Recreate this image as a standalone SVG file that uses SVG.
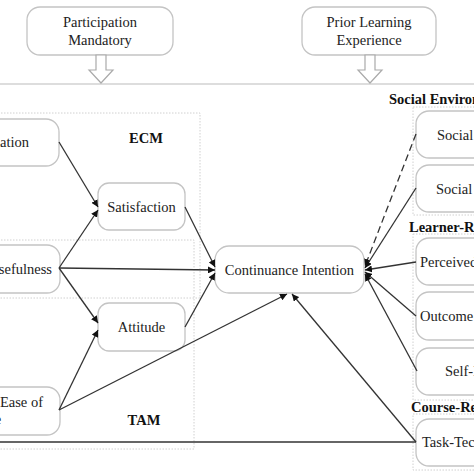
<svg xmlns="http://www.w3.org/2000/svg" width="474" height="474" viewBox="0 0 474 474">
<defs>
<style>
.box{fill:#fff;stroke:#c4c4c4;stroke-width:1.3}
.grp{fill:none;stroke:#d0d0d0;stroke-width:1;stroke-dasharray:1.5 1.5}
.t{font-family:"Liberation Serif","Times New Roman",serif;font-size:14.5px;fill:#222}
.b{font-family:"Liberation Serif","Times New Roman",serif;font-size:14.5px;font-weight:bold;fill:#111}
.c{stroke:#333;stroke-width:1.3;fill:none}
.hollow{fill:#fff;stroke:#aaa;stroke-width:1.2}
</style>
<marker id="ah" viewBox="0 0 10 10" refX="10" refY="5" markerWidth="7" markerHeight="7" markerUnits="userSpaceOnUse" orient="auto">
<path d="M0,0 L10,5 L0,10 z" fill="#111"/>
</marker>
</defs>
<rect width="474" height="474" fill="#fff"/>
<g id="containers">
<rect class="grp" x="-2" y="113" width="202" height="185"/>
<rect class="grp" x="-2" y="240" width="196" height="209"/>
<rect class="grp" x="413" y="107" width="70" height="108"/>
<rect class="grp" x="413" y="234" width="70" height="166"/>
<rect class="grp" x="413" y="414" width="70" height="56"/>
<line x1="0" y1="84" x2="474" y2="84" stroke="#bbb" stroke-width="1.2"/>
</g>
<g id="node-participation">
<rect class="box" x="27" y="7" width="146" height="48" rx="13"/>
<text class="t" x="100" y="27" text-anchor="middle">Participation</text>
<text class="t" x="100" y="45" text-anchor="middle">Mandatory</text>
<path class="hollow" d="M96,55 L106,55 L106,70 L113,70 L101,83 L89,70 L96,70 z"/>
</g>
<g id="node-prior">
<rect class="box" x="302" y="7" width="134" height="48" rx="13"/>
<text class="t" x="369" y="27" text-anchor="middle">Prior Learning</text>
<text class="t" x="369" y="45" text-anchor="middle">Experience</text>
<path class="hollow" d="M365,55 L375,55 L375,70 L382,70 L370,83 L358,70 L365,70 z"/>
</g>
<g id="labels">
<text class="b" x="146" y="143" text-anchor="middle">ECM</text>
<text class="b" x="144" y="425" text-anchor="middle">TAM</text>
<text class="b" x="389" y="104">Social Environment</text>
<text class="b" x="409" y="232">Learner-Related</text>
<text class="b" x="411" y="412">Course-Related</text>
</g>
<g id="node-confirmation">
<rect class="box" x="-80" y="119" width="139" height="47" rx="13"/>
<text class="t" x="29" y="147" text-anchor="end">Confirmation</text>
</g>
<g id="node-pu">
<rect class="box" x="-80" y="245" width="140" height="48" rx="13"/>
<text class="t" x="52" y="274" text-anchor="end">Perceived Usefulness</text>
</g>
<g id="node-peou">
<rect class="box" x="-80" y="387" width="140" height="48" rx="13"/>
<text class="t" x="43" y="407" text-anchor="end">Perceived Ease of</text>
<text class="t" x="-10" y="424" text-anchor="middle">Use</text>
</g>
<g id="node-satisfaction">
<rect class="box" x="98" y="183" width="87" height="47" rx="11"/>
<text class="t" x="141.5" y="212" text-anchor="middle">Satisfaction</text>
</g>
<g id="node-attitude">
<rect class="box" x="98" y="303" width="87" height="48" rx="11"/>
<text class="t" x="141.5" y="332" text-anchor="middle">Attitude</text>
</g>
<g id="node-ci">
<rect class="box" x="215" y="246" width="149" height="47" rx="14"/>
<text class="t" x="289.5" y="275" text-anchor="middle">Continuance Intention</text>
</g>
<g id="node-social1">
<rect class="box" x="416" y="111" width="80" height="47" rx="13"/>
<text class="t" x="437" y="140">Social Presence</text>
</g>
<g id="node-social2">
<rect class="box" x="416" y="165" width="80" height="47" rx="13"/>
<text class="t" x="436" y="194">Social Influence</text>
</g>
<g id="node-perceived">
<rect class="box" x="416" y="238" width="80" height="47" rx="13"/>
<text class="t" x="420" y="267">Perceived Enjoyment</text>
</g>
<g id="node-outcome">
<rect class="box" x="416" y="292" width="80" height="48" rx="13"/>
<text class="t" x="420" y="321">Outcome Expectations</text>
</g>
<g id="node-self">
<rect class="box" x="416" y="348" width="80" height="47" rx="13"/>
<text class="t" x="445" y="376">Self-Efficacy</text>
</g>
<g id="node-ttf">
<rect class="box" x="416" y="419" width="80" height="47" rx="13"/>
<text class="t" x="422" y="447">Task-Technology Fit</text>
</g>
<g id="connectors">
<line class="c" x1="59" y1="142" x2="98" y2="207" marker-end="url(#ah)"/>
<line class="c" x1="59" y1="268" x2="98" y2="210" marker-end="url(#ah)"/>
<line class="c" x1="59" y1="268" x2="215" y2="270" marker-end="url(#ah)"/>
<line class="c" x1="59" y1="268" x2="98" y2="323" marker-end="url(#ah)"/>
<line class="c" x1="59" y1="410" x2="98" y2="330" marker-end="url(#ah)"/>
<line class="c" x1="59" y1="410" x2="287" y2="294" marker-end="url(#ah)"/>
<line class="c" x1="185" y1="207" x2="215" y2="267" marker-end="url(#ah)"/>
<line class="c" x1="185" y1="327" x2="215" y2="273" marker-end="url(#ah)"/>
<line class="c" x1="416" y1="134" x2="365" y2="266" stroke-dasharray="7 4" marker-end="url(#ah)"/>
<line class="c" x1="416" y1="188" x2="365" y2="268" marker-end="url(#ah)"/>
<line class="c" x1="416" y1="262" x2="365" y2="270" marker-end="url(#ah)"/>
<line class="c" x1="416" y1="316" x2="365" y2="272" marker-end="url(#ah)"/>
<line class="c" x1="417" y1="371" x2="365" y2="274" marker-end="url(#ah)"/>
<line class="c" x1="416" y1="442" x2="292" y2="294" marker-end="url(#ah)"/>
<line class="c" x1="416" y1="442" x2="0" y2="442"/>
</g>
</svg>
